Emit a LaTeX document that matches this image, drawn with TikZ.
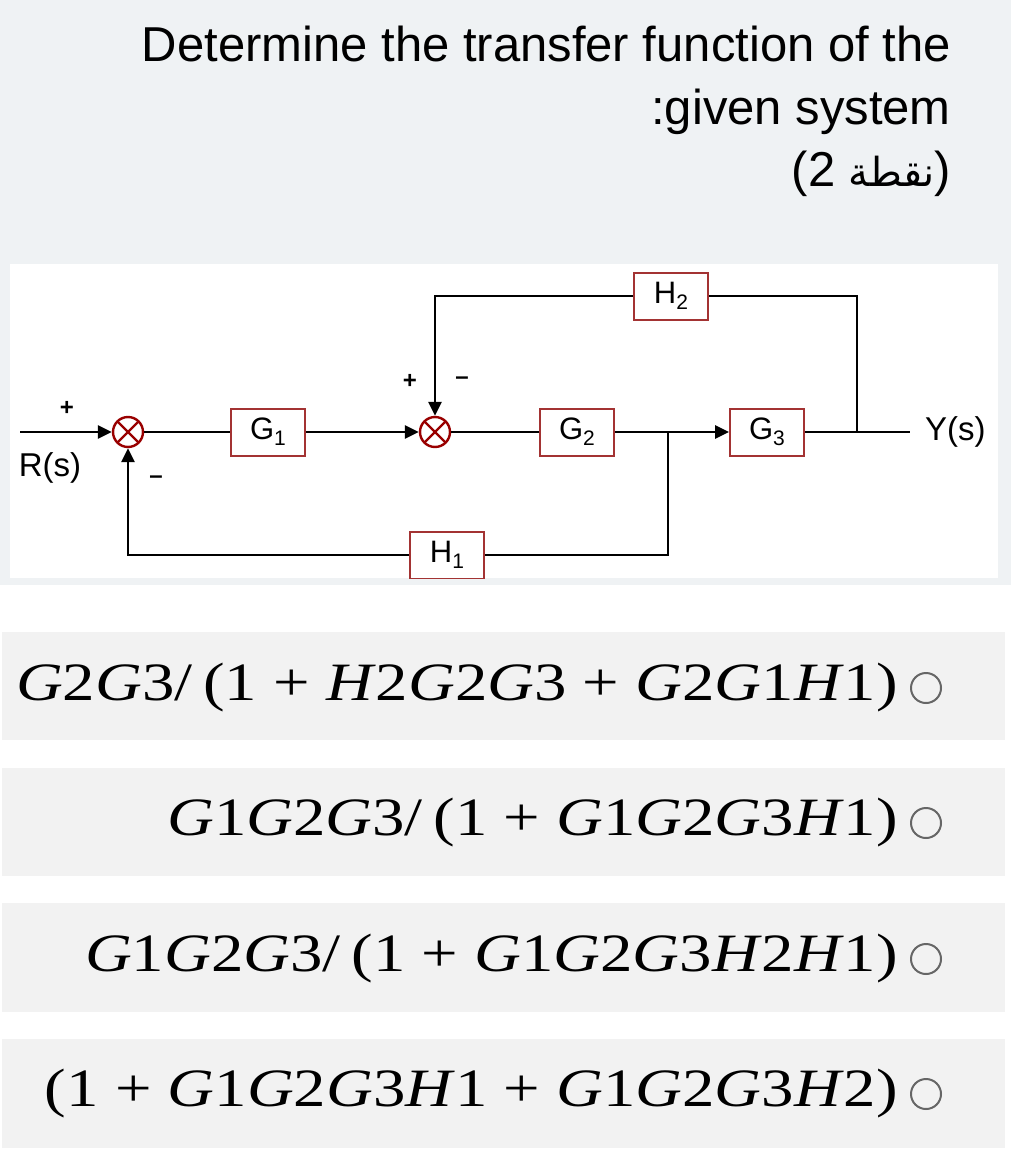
\documentclass[tikz,border=0pt]{standalone}
\usepackage{fontspec}
\setmainfont{Liberation Sans}
\newfontfamily\arfont[Script=Arabic]{DejaVu Sans}
\newfontfamily\tmfont{Liberation Serif}
\usetikzlibrary{arrows.meta}
\TeXXeTstate=1
\newcommand{\V}[1]{\textit{#1}}
\newcommand{\sub}[1]{\raisebox{-6pt}{\fontsize{21}{22}\selectfont #1}}
\newcommand{\ansx}[1]{\scalebox{1.2}[1]{#1}}
\begin{document}
\begin{tikzpicture}[x=1pt,y=-1pt,
  blk/.style={draw=red!55!black!80,line width=2pt,fill=white,minimum width=74pt,minimum height=47pt,font=\fontsize{31}{33}\selectfont,inner sep=0pt},
  sumj/.style={draw=red!60!black,line width=2.4pt,circle,minimum size=30pt,inner sep=0pt,path picture={\draw[red!60!black,line width=2.2pt] (path picture bounding box.north west)--(path picture bounding box.south east) (path picture bounding box.north east)--(path picture bounding box.south west);}},
  wire/.style={line width=2.8pt},
  arr/.style={wire,-{Triangle[length=14pt,width=13pt]}},
  opt/.style={fill=black!5,draw=none},
  ans/.style={anchor=east,font=\tmfont\fontsize{54}{58}\selectfont,inner sep=0pt},
  rad/.style={circle,draw=black!60,line width=2pt,minimum size=30pt,inner sep=0pt},
  sgn/.style={font=\bfseries\fontsize{24}{26}\selectfont,inner sep=0pt},
  lbl/.style={font=\fontsize{33}{35}\selectfont,inner sep=0pt}]
\useasboundingbox (0,0) rectangle (1011,1156);
\fill[white] (0,0) rectangle (1011,1156);
\fill[cyan!20!gray!12] (0,0) rectangle (1011,585);
\fill[white] (10,264) rectangle (998,578);
% title
\node[anchor=base east,font=\fontsize{49}{52}\selectfont,inner sep=0pt] (t1) at (951,62) {Determine the transfer function of the};
\node[anchor=base east,font=\fontsize{49}{52}\selectfont,inner sep=0pt] (t2) at (951,124) {:given system};
\node[anchor=base east,font=\fontsize{49}{52}\selectfont,inner sep=0pt] (t3) at (951,186) {(2 {\arfont\fontsize{40}{44}\selectfont\beginR نقطة\endR})};
% diagram
\begin{scope}
\clip (10,264) rectangle (998,578);
\node[sumj] (s1) at (128,432) {};
\node[sumj] (s2) at (435,432) {};
\node[blk] (g1) at (268,432) {G\sub{1}};
\node[blk] (g2) at (577,432) {G\sub{2}};
\node[blk] (g3) at (767,432) {G\sub{3}};
\node[blk] (h2) at (671,296) {H\sub{2}};
\node[blk] (h1) at (447,555) {H\sub{1}};
\coordinate (in) at (20,432);
\coordinate (out) at (910,432);
\coordinate (b1) at (668,432);
\coordinate (b2) at (857,432);
\node[lbl,anchor=west] (y) at (925,432) {Y(s)};
\node[lbl] (r) at (50,468) {R(s)};
\draw[arr] (in) -- (s1);
\draw[wire] (s1) -- (g1);
\draw[arr] (g1) -- (s2);
\draw[wire] (s2) -- (g2);
\draw[arr] (g2) -- (g3);
\draw[wire] (g3) -- (out);
\draw[wire] (b2) |- (h2);
\draw[arr] (h2) -| (s2);
\draw[wire] (b1) |- (h1);
\draw[arr] (h1) -| (s1);
\node[sgn] (p1) at (67,408) {+};
\node[sgn] (p2) at (410,381) {+};
\node[sgn] (m2) at (462,381) {--};
\node[sgn] (m1) at (156,480) {--};
\end{scope}
% options
\fill[opt] (2,632) rectangle (1005,740);
\fill[opt] (2,768) rectangle (1005,876);
\fill[opt] (2,903) rectangle (1005,1012);
\fill[opt] (2,1039) rectangle (1005,1148);
\begin{scope}
\clip (12,632) rectangle (1005,740);
\node[ans] (a1) at (898,688) {\ansx{\V{G}2\V{G}3/\,(1 + \V{H}2\V{G}2\V{G}3 + \V{G}2\V{G}1\V{H}1)}};
\end{scope}
\node[ans] (a2) at (898,823) {\ansx{\V{G}1\V{G}2\V{G}3/\,(1 + \V{G}1\V{G}2\V{G}3\V{H}1)}};
\node[ans] (a3) at (898,959) {\ansx{\V{G}1\V{G}2\V{G}3/\,(1 + \V{G}1\V{G}2\V{G}3\V{H}2\V{H}1)}};
\node[ans] (a4) at (898,1094) {\ansx{(1 + \V{G}1\V{G}2\V{G}3\V{H}1 + \V{G}1\V{G}2\V{G}3\V{H}2)}};
\node[rad] (c1) at (926,688) {};
\node[rad] (c2) at (926,823) {};
\node[rad] (c3) at (926,959) {};
\node[rad] (c4) at (926,1094) {};
\end{tikzpicture}
\end{document}
